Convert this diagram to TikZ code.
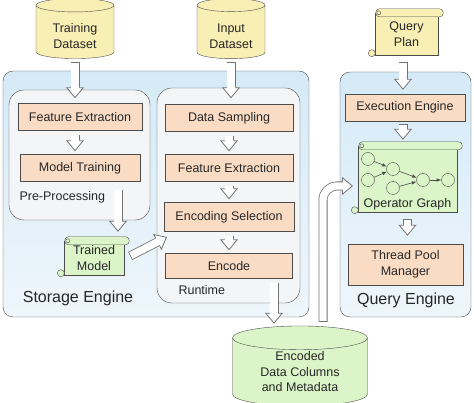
\documentclass[tikz,border=0pt]{standalone}
\usepackage{fontspec}
\setmainfont{Liberation Sans}
\usepackage{tikz}
\usetikzlibrary{calc}
\usetikzlibrary{positioning}
\usetikzlibrary{shapes.geometric}
\usetikzlibrary{arrows.meta}
\tikzset{>=latex}
\usepackage{xcolor}
\definecolor{boxcol}{HTML}{FADCC4}
\definecolor{dbcol}{HTML}{F8EFB4}
\definecolor{scrollcol}{HTML}{DCF5C8}
\definecolor{panelcol}{HTML}{F4F5F7}
\definecolor{enginetop}{HTML}{D5EAF7}
\definecolor{enginebot}{HTML}{EEF6FB}
\colorlet{linecol}{black!70}
\colorlet{arrowcol}{black!55}
\def\up{\rule{0pt}{17pt}}

\tikzset{
	every node/.style={font=\fontsize{12.5}{15.5}\selectfont, text=black!85, align=center},
	engine/.style={draw=linecol, rounded corners=10, top color=enginetop, bottom color=enginebot},
	panel/.style={draw=linecol, rounded corners=15, fill=panelcol},
	stage/.style={draw=linecol, fill=boxcol, minimum height=27, inner sep=0},
	data/.style={cylinder, shape border rotate=90, draw=linecol, fill=dbcol, aspect=0.3, inner sep=0},
	scroll/.style={draw=linecol, fill=scrollcol, inner sep=0},
	opnode/.style={circle, draw=linecol, fill=scrollcol, minimum size=13, inner sep=0},
	title/.style={font=\fontsize{16}{18}\selectfont},
	fatarrow/.style={draw=arrowcol, line width=9pt,
		-{Triangle[length=11pt,width=18pt,open,fill=white,line width=0.8pt]},
		postaction={draw=white, line width=7.4pt, -, shorten <=0.8pt, shorten >=9pt}}
}

\begin{document}
\begin{tikzpicture}[x=1pt,y=-1pt]
	\useasboundingbox (0,0) rectangle (474,403);
	
	% ENGINES
	\node[engine, minimum width=306, minimum height=246] (storage) at (156,194) {};
	\node[engine, minimum width=131, minimum height=245] (query) at (405.5,194.5) {};
	\node[title] (se) at (78,298) {Storage Engine};
	\node[title] (qe) at (406,300) {Query Engine};
	
	% PANELS
	\node[panel, minimum width=141, minimum height=130] (prep) at (79.5,155) {};
	\node[panel, minimum width=143, minimum height=215] (runtime) at (228.5,195.5) {};
	\node[anchor=west] (pplabel) at (16,197) {Pre-Processing};
	\node[anchor=west] (rtlabel) at (175,290) {Runtime};
	
	% STAGES
	\node[stage, minimum width=124] (fe1) at (80,117) {Feature Extraction};
	\node[stage, minimum width=120] (mt) at (80,168) {Model Training};
	\node[stage, minimum width=128] (ds) at (229,118) {Data Sampling};
	\node[stage, minimum width=128] (fe2) at (229,168) {Feature Extraction};
	\node[stage, minimum width=130, minimum height=29] (es) at (229,217) {Encoding Selection};
	\node[stage, minimum width=127, minimum height=25] (enc) at (229,266) {Encode};
	\node[stage, minimum width=120] (exe) at (405,107.5) {Execution Engine};
	\node[stage, minimum width=115, minimum height=41] (tpm) at (405.5,264.5) {Thread Pool\\Manager};
	
	% DATA
	\node[data, minimum width=78, minimum height=60] (train) at (75,32) {\up Training\\Dataset};
	\node[data, minimum width=68, minimum height=60] (input) at (231,32) {\up Input\\Dataset};
	\node[data, minimum width=135, minimum height=80, fill=scrollcol] (encoded) at (300,372)
	{Encoded\\Data Columns\\and Metadata};
	
	% SCROLLS
	\node[scroll, minimum width=63, minimum height=42, fill=dbcol] (plan) at (406.5,34) {Query\\Plan};
	\node[scroll, minimum width=60, minimum height=34] (trained) at (94,258) {Trained\\Model};
	\node[scroll, minimum width=99, minimum height=66] (opg) at (407.5,179) {};
	\foreach \s/\c in {plan/dbcol, trained/scrollcol, opg/scrollcol}{
		\draw[draw=linecol, fill=\c, rounded corners=3.5]
		($(\s.north west)+(1,4)$) rectangle ($(\s.north east)+(5,-4)$);
		\draw[draw=linecol, fill=\c] ($(\s.north west)+(4,0)$) circle (2);
		\draw[draw=linecol, fill=\c] ($(\s.south west)+(-3,-2)$) circle (3.5);
	}
	\node (opglabel) at (407.5,204) {Operator Graph};
	
	% OPERATOR GRAPH
	\foreach \n/\x/\y in {g1/368/159, g2/368/180, g3/393/169, g4/393/188, g5/423/180, g6/448/180}
	\node[opnode] (\n) at (\x,\y) {};
	\foreach \a/\b in {g1/g3, g2/g3, g3/g5, g4/g5, g5/g6}
	\draw[->, linecol, line width=0.6pt] (\a) -- (\b);
	
	% ARROWS
	\coordinate (rin) at (167,237);
	\coordinate (ogin) at (353,186);
	\draw[fatarrow] ($(train.south)+(0,3)$) -- ($(train.south |- fe1.north)+(0,-5)$);
	\draw[fatarrow] ($(fe1.south -| train.south)+(0,4)$) -- ($(mt.north -| train.south)+(0,-3)$);
	\draw[fatarrow] ($(mt.south)+(38,8)$) -- ($(trained.north)+(24,-9)$);
	\draw[fatarrow] ($(trained.east)+(6,-2)$) -- (rin);
	\draw[fatarrow] ($(input.south)+(0,3)$) -- ($(input.south |- ds.north)+(0,-6)$);
	\draw[fatarrow] ($(ds.south)+(0,4)$) -- ($(fe2.north)+(0,-3)$);
	\draw[fatarrow] ($(fe2.south)+(0,4)$) -- ($(es.north)+(0,-3)$);
	\draw[fatarrow] ($(es.south)+(0,4)$) -- ($(enc.north)+(0,-3)$);
	\draw[fatarrow] ($(enc.south)+(45,4)$) -- ($(encoded.north)+(-26,-2)$);
	\draw[fatarrow, rounded corners=14] ($(encoded.north)+(23,-4)$) |- (ogin);
	\draw[fatarrow] ($(plan.south)+(-3.5,7)$) -- ($(exe.north)+(-2,-4)$);
	\draw[fatarrow] ($(exe.south)+(-2,3)$) -- ($(opg.north)+(-4.5,-6)$);
	\draw[fatarrow] ($(opg.south)+(0,7)$) -- ($(tpm.north)+(2,-8)$);
\end{tikzpicture}
\end{document}
